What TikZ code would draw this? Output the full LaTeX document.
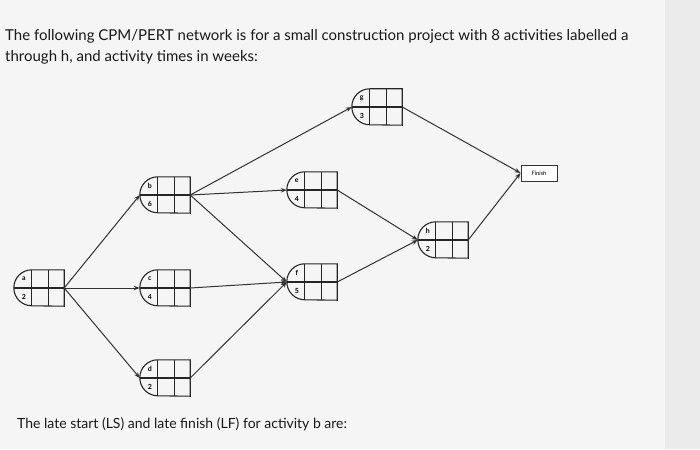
\documentclass[tikz,border=0pt]{standalone}
\usepackage{fontspec}
\setmainfont{Lato}
\usetikzlibrary{arrows.meta}
\newcommand\actnode[4]{%
  \node[actbox] (#1) at (#2) {};
  \draw[shp] ([xshift=18pt]#1.north west) arc[start angle=90,end angle=270,radius=18pt] -- (#1.south east) -- (#1.north east) -- cycle;
  \draw[shp] (#1.west) -- (#1.east);
  \draw[shp] ([xshift=18pt]#1.north west) -- ([xshift=18pt]#1.south west);
  \draw[shp] ([xshift=-16pt]#1.north east) -- ([xshift=-16pt]#1.south east);
  \node[lab] at ([xshift=10pt,yshift=9pt]#1.west) {#3};
  \node[lab] at ([xshift=10pt,yshift=-9pt]#1.west) {#4};
}
\begin{document}
\begin{tikzpicture}[x=1pt,y=-1pt,
  actbox/.style={minimum width=50pt,minimum height=36pt,inner sep=0pt,draw=none},
  shp/.style={draw=black!85,line width=1.1pt},
  lab/.style={font=\fontsize{7}{7}\selectfont\bfseries,inner sep=0pt},
  conn/.style={draw=black!80,line width=1pt,-{Stealth[length=6pt]}},
  txt/.style={font=\fontsize{15}{18}\selectfont,anchor=west,inner sep=0pt,text=black!90}]
\useasboundingbox (0,0) rectangle (700,449);
\fill[black!8] (0,0) rectangle (700,449);
\fill[white!96!black] (0,0) rectangle (665,449);
\node[txt] at (5,36) {The following CPM/PERT network is for a small construction project with 8 activities labelled a};
\node[txt] at (5,57) {through h, and activity times in weeks:};
\node[txt,font=\fontsize{14}{17}\selectfont] at (17,424) {The late start (LS) and late finish (LF) for activity b are:};
\actnode{a}{39,288}{a}{2}
\actnode{b}{165,195}{b}{6}
\actnode{c}{165,288}{c}{4}
\actnode{d}{165,378}{d}{2}
\actnode{e}{312,190}{e}{4}
\actnode{f}{312,282}{f}{5}
\actnode{g}{377,107}{g}{3}
\actnode{h}{443,240}{h}{2}
\node[draw=black!80,line width=1pt,fill=white,font=\fontsize{6}{6}\selectfont\itshape,minimum width=36pt,minimum height=16pt,inner sep=1pt] (fin) at (539,173) {Finish};
\draw[conn] (a.east) -- (b.west);
\draw[conn] (a.east) -- (c.west);
\draw[conn] (a.east) -- (d.west);
\draw[conn] (b.east) -- (g.west);
\draw[conn] (b.east) -- (e.west);
\draw[conn] (b.east) -- (f.west);
\draw[conn] (c.east) -- (f.west);
\draw[conn] (d.east) -- (f.west);
\draw[conn] (e.east) -- (h.west);
\draw[conn] (f.east) -- (h.west);
\draw[conn] (g.east) -- (fin.west);
\draw[conn] (h.east) -- (fin.west);
\end{tikzpicture}
\end{document}
